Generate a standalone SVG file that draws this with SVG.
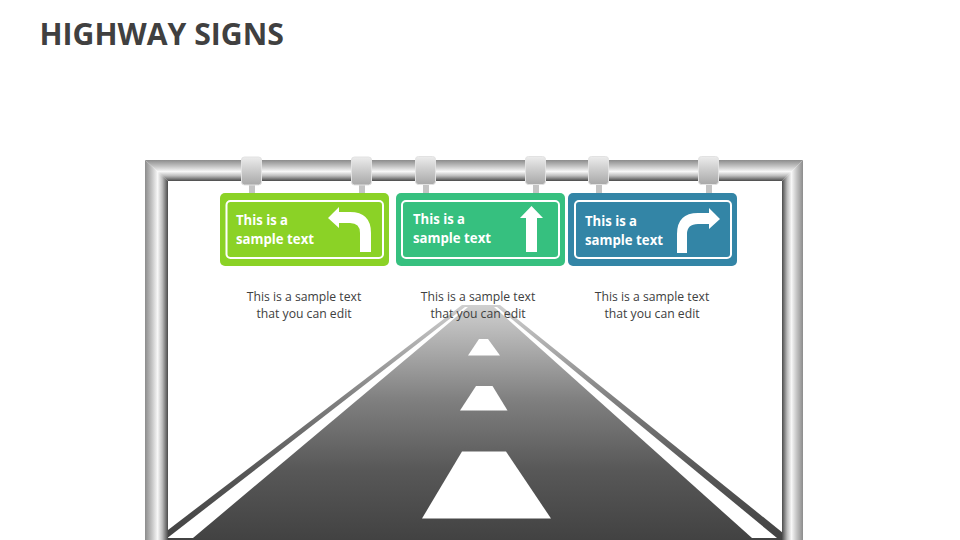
<svg xmlns="http://www.w3.org/2000/svg" width="960" height="540" viewBox="0 0 960 540">
<style>
.title{font:700 30.2px "Open Sans",sans-serif;fill:#404040}
.sign{font:700 14px "Open Sans",sans-serif;fill:#fff}
.body{font:400 12.2px "Open Sans",sans-serif;fill:#404040;text-anchor:middle}
.inner{fill:none;stroke:#fff;stroke-width:2}
.arrow{fill:#fff}
.clamp{fill:url(#cl);stroke:#e2e2e2;stroke-width:1}
.stem{fill:#c4c4c4}
</style>
<defs>
<linearGradient id="mh" x1="0" y1="0" x2="0" y2="1"><stop offset="0" stop-color="#8c8c8c"/><stop offset=".3" stop-color="#c4c4c4"/><stop offset=".55" stop-color="#f8f8f8"/><stop offset=".75" stop-color="#bdbdbd"/><stop offset="1" stop-color="#4a4a4a"/></linearGradient>
<linearGradient id="ml" x1="0" y1="0" x2="1" y2="0"><stop offset="0" stop-color="#8c8c8c"/><stop offset=".3" stop-color="#c4c4c4"/><stop offset=".55" stop-color="#f8f8f8"/><stop offset=".75" stop-color="#bdbdbd"/><stop offset="1" stop-color="#4a4a4a"/></linearGradient>
<linearGradient id="mr" x1="1" y1="0" x2="0" y2="0"><stop offset="0" stop-color="#8c8c8c"/><stop offset=".3" stop-color="#c4c4c4"/><stop offset=".55" stop-color="#f8f8f8"/><stop offset=".75" stop-color="#bdbdbd"/><stop offset="1" stop-color="#4a4a4a"/></linearGradient>
<linearGradient id="cl" x1="0" y1="0" x2="0" y2="1"><stop offset="0" stop-color="#ececec"/><stop offset="1" stop-color="#a8a8a8"/></linearGradient>
<linearGradient id="rd" gradientUnits="userSpaceOnUse" x1="0" y1="305" x2="0" y2="540"><stop offset="0" stop-color="#d0d0d0"/><stop offset=".4" stop-color="#808080"/><stop offset=".7" stop-color="#585858"/><stop offset="1" stop-color="#424242"/></linearGradient>
</defs>
<text class="title" x="39.500" y="45">HIGHWAY SIGNS</text>
<g id="road">
<polygon points="168,530 462,305 500,305 783,533 783,540 168,540" fill="url(#rd)"/>
<polygon points="168,537.500 465,307 468,307 193,538 168,538" fill="#fff"/>
<polygon points="777,538 497,307 494,307 752,538" fill="#fff"/>
<polygon points="479,339 488,339 500,355.500 468,355.500" fill="#fff"/>
<polygon points="476,386 492.500,386 507.500,410.500 460,410.500" fill="#fff"/>
<polygon points="462,451.500 506,451.500 551,518.500 422,518.500" fill="#fff"/>
</g>
<g id="frame">
<polygon points="145,160 803,160 782,181 168,181" fill="url(#mh)"/>
<polygon points="145,160 168,181 168,540 145,540" fill="url(#ml)"/>
<polygon points="803,160 782,181 782,540 803,540" fill="url(#mr)"/>
</g>
<g id="sign-left">
<rect class="stem" x="249" y="184" width="6" height="10"/><rect class="stem" x="359" y="184" width="6" height="10"/>
<rect class="clamp" x="241.500" y="157" width="20" height="28" rx="3"/><rect class="clamp" x="351.500" y="157" width="20" height="28" rx="3"/>
<rect x="220" y="193" width="169" height="73" rx="5" fill="#8bd226"/>
<rect class="inner" x="226.500" y="201" width="156.500" height="57" rx="4"/>
<path class="arrow" d="M328 218L339 207V212H350Q371 212 371 233V252H360V233Q360 223 350 223H339V228Z"/>
<text class="sign" x="236" y="225" textLength="52" lengthAdjust="spacingAndGlyphs">This is a</text><text class="sign" x="236" y="244" textLength="78" lengthAdjust="spacingAndGlyphs">sample text</text>
</g>
<g id="sign-middle">
<rect class="stem" x="423" y="184" width="6" height="10"/><rect class="stem" x="533" y="184" width="6" height="10"/>
<rect class="clamp" x="415.500" y="156.500" width="20" height="28" rx="3"/><rect class="clamp" x="525.500" y="156.500" width="20" height="28" rx="3"/>
<rect x="396" y="193" width="169" height="73" rx="5" fill="#36c07f"/>
<rect class="inner" x="402" y="201" width="157" height="57" rx="4"/>
<path class="arrow" d="M531.500 206L543 218H537V252H526V218H520Z"/>
<text class="sign" x="413" y="224" textLength="52" lengthAdjust="spacingAndGlyphs">This is a</text><text class="sign" x="413" y="243" textLength="78" lengthAdjust="spacingAndGlyphs">sample text</text>
</g>
<g id="sign-right">
<rect class="stem" x="596" y="184" width="6" height="10"/><rect class="stem" x="706" y="184" width="6" height="10"/>
<rect class="clamp" x="588.500" y="156.500" width="20" height="28" rx="3"/><rect class="clamp" x="698.500" y="156.500" width="20" height="28" rx="3"/>
<rect x="568" y="193" width="169" height="73" rx="5" fill="#3385a6"/>
<rect class="inner" x="575" y="201" width="156" height="57" rx="4"/>
<path class="arrow" d="M720 219L709 208V213H698Q677 213 677 234V253H687V234Q687 224 698 224H709V229Z"/>
<text class="sign" x="585" y="226" textLength="52" lengthAdjust="spacingAndGlyphs">This is a</text><text class="sign" x="585" y="245" textLength="78" lengthAdjust="spacingAndGlyphs">sample text</text>
</g>
<g id="captions">
<text class="body" x="304" y="301">This is a sample text</text><text class="body" x="304" y="318">that you can edit</text>
<text class="body" x="478" y="301">This is a sample text</text><text class="body" x="478" y="318">that you can edit</text>
<text class="body" x="652" y="301">This is a sample text</text><text class="body" x="652" y="318">that you can edit</text>
</g>
</svg>
